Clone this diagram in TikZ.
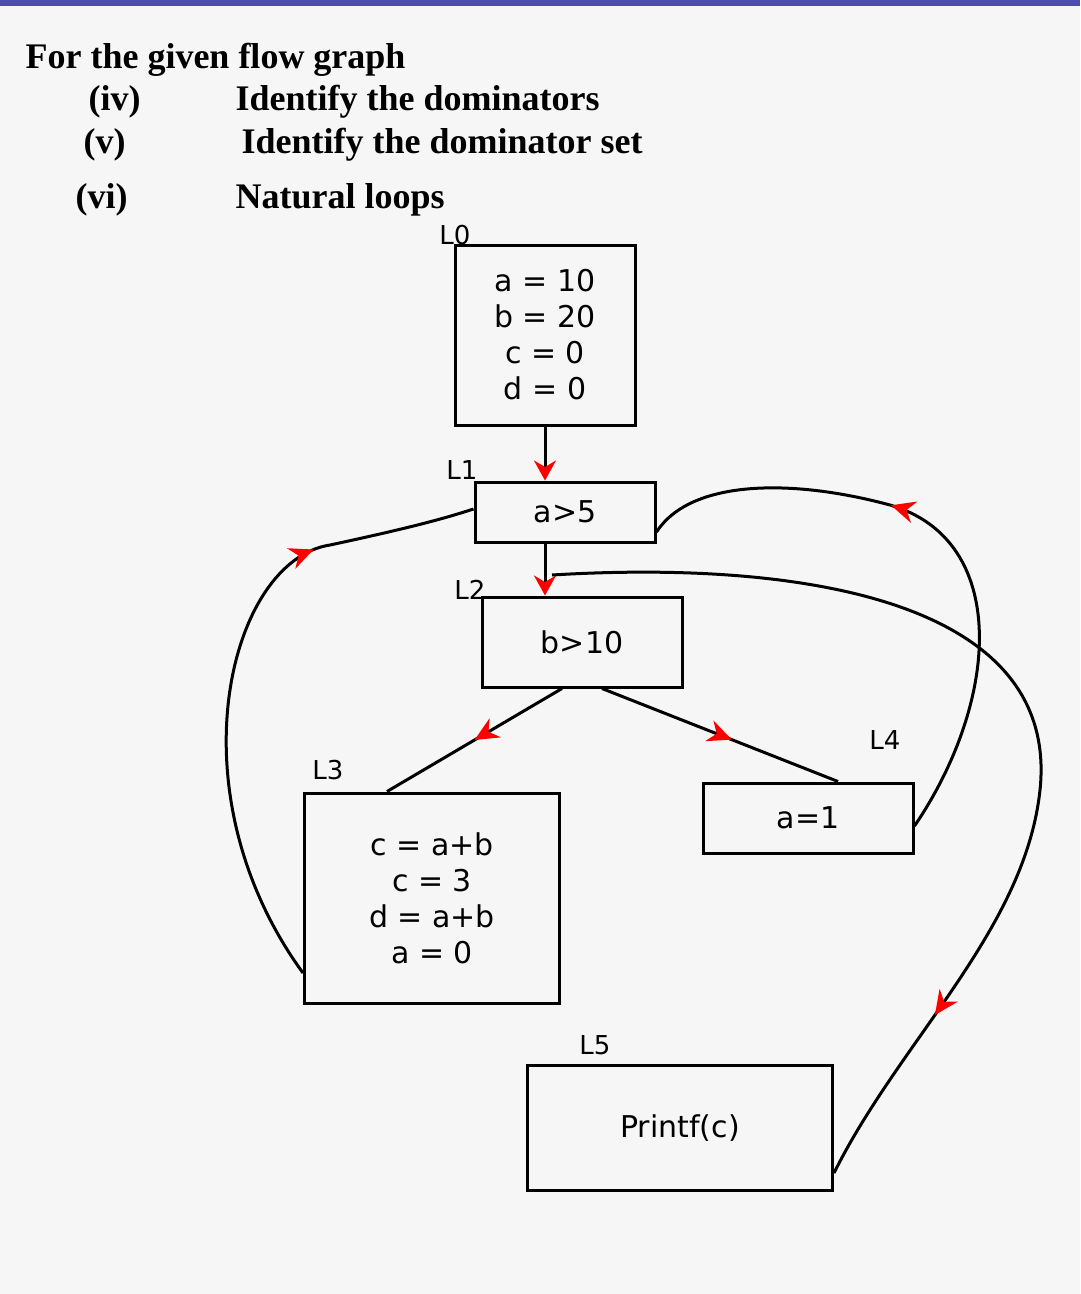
\documentclass[tikz,border=0pt]{standalone}
\usepackage{fontspec}
\setmainfont{Liberation Serif}
\newfontfamily\hand{DejaVu Sans}
\usetikzlibrary{arrows.meta,decorations.markings}
\begin{document}
\begin{tikzpicture}[x=1pt,y=-1pt,
  blk/.style={draw,line width=3pt,minimum width=#1,inner sep=4pt,font=\hand\fontsize{30}{36}\selectfont,align=center},
  lbl/.style={font=\hand\fontsize{26}{30}\selectfont},
  edge/.style={line width=3pt},
  redtip/.style={-{Stealth[red,length=20pt,width=22pt]}},
  redmid/.style={postaction={decorate},decoration={markings,mark=at position #1 with {\arrow[red]{Stealth[length=24pt,width=22pt]}}}},
  hdr/.style={font=\bfseries\fontsize{36}{40}\selectfont,anchor=west}]
\useasboundingbox[fill=gray!7] (0,0) rectangle (1080,1294);
\fill[blue!40!gray] (0,0) rectangle (1080,6);
\node[hdr] (t0) at (22,60) {For the given flow graph};
\node[hdr] (t1) at (85,102) {(iv)};
\node[hdr] (t1b) at (232,102) {Identify the dominators};
\node[hdr] (t2) at (80,145) {(v)};
\node[hdr] (t2b) at (238,145) {Identify the dominator set};
\node[hdr] (t3) at (72,200) {(vi)};
\node[hdr] (t3b) at (232,200) {Natural loops};

\node[blk=180pt,minimum height=180pt] (L0) at (545,335) {a = 10\\b = 20\\c = 0\\d = 0};
\node[blk=180pt,minimum height=60pt] (L1) at (565,512) {a>5};
\node[blk=200pt,minimum height=90pt] (L2) at (582,642) {b>10};
\node[blk=255pt,minimum height=210pt] (L3) at (432,898) {c = a+b\\c = 3\\d = a+b\\a = 0};
\node[blk=210pt,minimum height=70pt] (L4) at (808,818) {a=1};
\node[blk=305pt,minimum height=125pt] (L5) at (680,1128) {Printf(c)};

\node[lbl] (n0) at (455,235) {L0};
\node[lbl] (n1) at (462,470) {L1};
\node[lbl] (n2) at (470,590) {L2};
\node[lbl] (n3) at (328,770) {L3};
\node[lbl] (n4) at (885,740) {L4};
\node[lbl] (n5) at (595,1045) {L5};

\coordinate (j2) at (552,575);
\draw[edge,redtip] (L0.south) -- (L0.south |- L1.north);
\draw[edge,redtip] ([xshift=-20pt]L1.south) -- ([xshift=-20pt]L1.south |- L2.north);
\draw[edge,redmid=0.5] ([xshift=-20pt]L2.south) -- ([xshift=-45pt]L3.north);
\draw[edge,redmid=0.55] ([xshift=20pt]L2.south) -- ([xshift=30pt]L4.north);
\draw[edge,redmid=0.74] ([yshift=-75pt]L3.west) .. controls (170,790) and (230,560) .. (330,545) .. controls (400,530) and (440,520) .. ([yshift=3pt]L1.west);
\draw[edge,redmid=0.6] ([yshift=-8pt]L4.east) .. controls (1000,700) and (1010,540) .. (890,505) .. controls (790,478) and (690,480) .. ([yshift=-20pt]L1.east);
\draw[edge,redmid=0.82] (j2) .. controls (800,560) and (1060,600) .. (1040,790) .. controls (1025,930) and (900,1040) .. ([yshift=-45pt]L5.east);
\end{tikzpicture}
\end{document}
